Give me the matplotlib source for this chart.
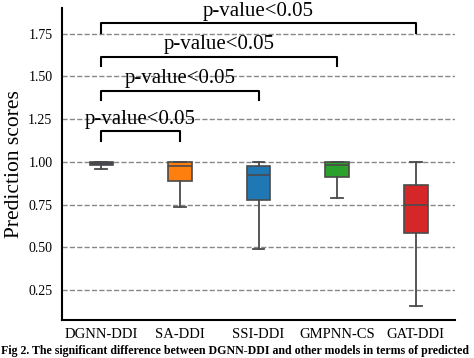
import matplotlib.pyplot as plt

plt.rcParams['font.family'] = ['Liberation Serif', 'DejaVu Serif']

models = ['DGNN-DDI', 'SA-DDI', 'SSI-DDI', 'GMPNN-CS', 'GAT-DDI']
whislo = [0.961, 0.736, 0.489, 0.788, 0.158]
q1 = [0.980, 0.889, 0.776, 0.912, 0.582]
med = [0.990, 0.977, 0.922, 0.981, 0.751]
q3 = [1.000, 0.998, 0.977, 0.998, 0.866]
whishi = [1.000, 1.000, 1.000, 1.000, 1.000]
colors = ['#3d3b6e', '#ff7f0e', '#1f77b4', '#2ca02c', '#d62728']

# brackets: (start index, end index, height)
brackets = [(0, 1, 1.18), (0, 2, 1.415), (0, 3, 1.613), (0, 4, 1.81)]
label = 'p-value<0.05'
caption = 'Fig 2. The significant difference between DGNN-DDI and other models in terms of predicted'


def main():
    fig = plt.figure(figsize=(4.74, 3.58), dpi=100)
    ax = fig.add_axes([0.131, 0.106, 0.829, 0.872])

    stats = []
    for i, m in enumerate(models):
        stats.append(dict(label=m, whislo=whislo[i], q1=q1[i], med=med[i],
                          q3=q3[i], whishi=whishi[i], fliers=[]))
    bp = ax.bxp(stats, positions=range(len(models)), widths=0.3,
                patch_artist=True, showfliers=False,
                whiskerprops=dict(color='#4a4a4a', linewidth=1.3),
                capprops=dict(color='#4a4a4a', linewidth=1.3),
                medianprops=dict(color='#4a4a4a', linewidth=1.2),
                boxprops=dict(edgecolor='#4a4a4a', linewidth=1.2))
    for patch, c in zip(bp['boxes'], colors):
        patch.set_facecolor(c)

    for a, b, h in brackets:
        ax.plot([a, a, b, b], [h - 0.055, h, h, h - 0.055],
                color='black', linewidth=1.5, clip_on=False)
        ax.text((a + b) / 2, h + 0.015, label, ha='center', va='bottom',
                fontsize=15, clip_on=False)

    ax.set_xlim(-0.5, 4.5)
    ax.set_ylim(0.076, 1.9)
    ax.set_yticks([0.25, 0.5, 0.75, 1.0, 1.25, 1.5, 1.75])
    ax.set_yticklabels(['0.25', '0.50', '0.75', '1.00', '1.25', '1.50', '1.75'])
    ax.set_xticks(range(len(models)))
    ax.set_xticklabels(models, fontsize=10.5)
    ax.tick_params(axis='y', length=0, labelsize=10, pad=7)
    ax.tick_params(axis='x', length=0, pad=6)
    ax.grid(axis='y', linestyle='--', color='#888888', linewidth=1.0)
    ax.set_axisbelow(True)
    ax.spines['top'].set_visible(False)
    ax.spines['right'].set_visible(False)
    ax.spines['left'].set_linewidth(1.5)
    ax.spines['bottom'].set_linewidth(1.5)
    ax.set_ylabel('Prediction scores', fontsize=15.5)
    ax.yaxis.set_label_coords(-0.097, 0.5)

    fig.text(0.002, 0.012, caption, fontsize=8.6, fontweight='bold',
             ha='left', va='baseline')

    fig.savefig('out.png', dpi=100)


if __name__ == "__main__":
    main()
